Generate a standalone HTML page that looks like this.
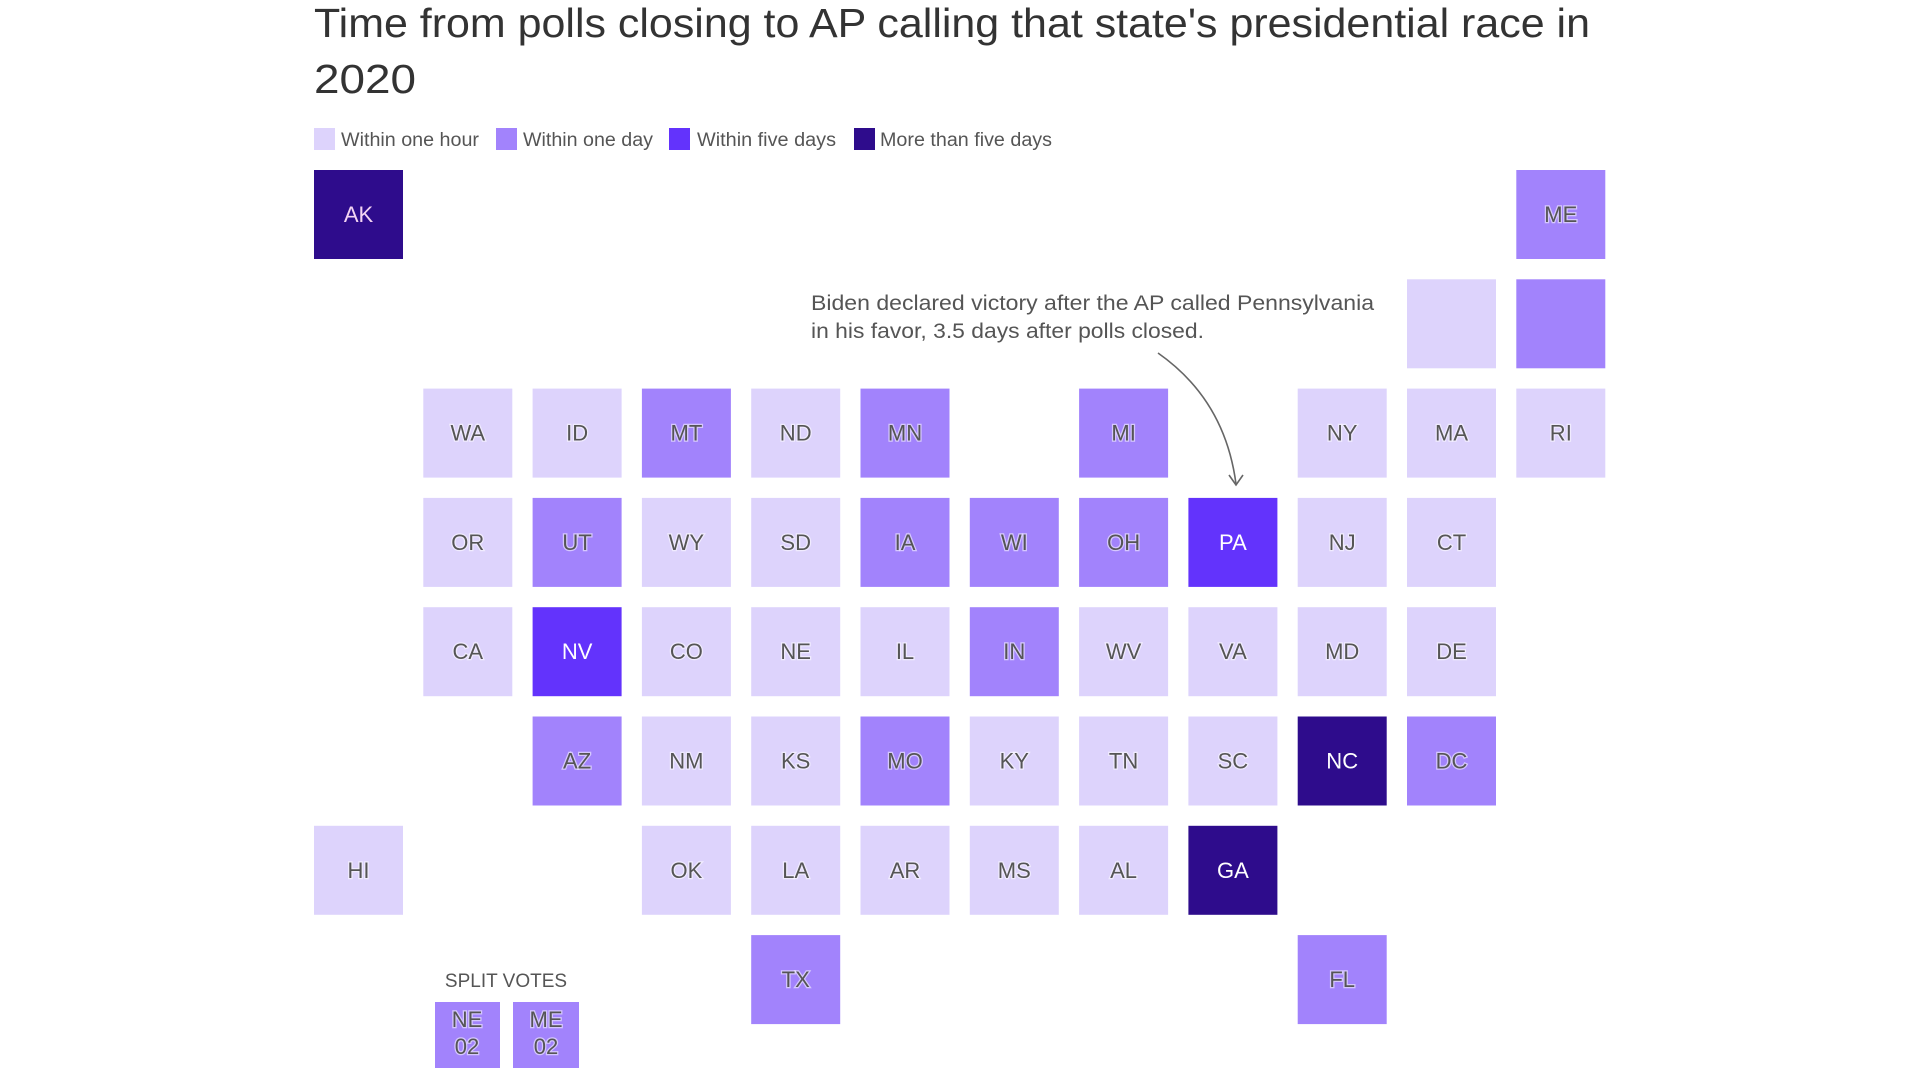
<!DOCTYPE html>
<html><head><meta charset="utf-8"><style>
html,body{margin:0;padding:0;background:#fff;}
svg{display:block;}
text{font-family:"Liberation Sans",sans-serif;}
.t{font-size:22px;fill:#555;text-anchor:middle;stroke:rgba(255,255,255,0.55);stroke-width:2.5px;paint-order:stroke;}
.w{font-size:22px;fill:#fff;text-anchor:middle;}
.L{fill:#ddd3fc}.M{fill:#a283fc}.F{fill:#6333fc}.D{fill:#2e0c8c}
</style></head><body>
<svg width="1920" height="1080" viewBox="0 0 1920 1080" xmlns="http://www.w3.org/2000/svg">
<text x="314" y="37" font-size="41" fill="#333" textLength="1276" lengthAdjust="spacingAndGlyphs">Time from polls closing to AP calling that state's presidential race in</text>
<text x="314" y="93" font-size="41" fill="#333" textLength="102" lengthAdjust="spacingAndGlyphs">2020</text>
<rect x="314" y="128" width="21" height="22" fill="#ddd3fc"/>
<text x="341" y="146" font-size="19" fill="#555" textLength="138" lengthAdjust="spacingAndGlyphs">Within one hour</text>
<rect x="496" y="128" width="21" height="22" fill="#a283fc"/>
<text x="523" y="146" font-size="19" fill="#555" textLength="130" lengthAdjust="spacingAndGlyphs">Within one day</text>
<rect x="669" y="128" width="21" height="22" fill="#6333fc"/>
<text x="697" y="146" font-size="19" fill="#555" textLength="139" lengthAdjust="spacingAndGlyphs">Within five days</text>
<rect x="854" y="128" width="21" height="22" fill="#2e0c8c"/>
<text x="880" y="146" font-size="19" fill="#555" textLength="172" lengthAdjust="spacingAndGlyphs">More than five days</text>

<g transform="translate(314,170)"><rect class="D" width="89" height="89"/><text class="w" style="fill:#f3d4f3" x="44.5" y="52">AK</text></g>
<g transform="translate(1516.3,170)"><rect class="M" width="89" height="89"/><text class="t" x="44.5" y="52">ME</text></g>
<g transform="translate(1407,279.3)"><rect class="L" width="89" height="89"/></g>
<g transform="translate(1516.3,279.3)"><rect class="M" width="89" height="89"/></g>

<g transform="translate(423.3,388.6)"><rect class="L" width="89" height="89"/><text class="t" x="44.5" y="52">WA</text></g>
<g transform="translate(532.6,388.6)"><rect class="L" width="89" height="89"/><text class="t" x="44.5" y="52">ID</text></g>
<g transform="translate(641.9,388.6)"><rect class="M" width="89" height="89"/><text class="t" x="44.5" y="52">MT</text></g>
<g transform="translate(751.2,388.6)"><rect class="L" width="89" height="89"/><text class="t" x="44.5" y="52">ND</text></g>
<g transform="translate(860.5,388.6)"><rect class="M" width="89" height="89"/><text class="t" x="44.5" y="52">MN</text></g>
<g transform="translate(1079.1,388.6)"><rect class="M" width="89" height="89"/><text class="t" x="44.5" y="52">MI</text></g>
<g transform="translate(1297.7,388.6)"><rect class="L" width="89" height="89"/><text class="t" x="44.5" y="52">NY</text></g>
<g transform="translate(1407,388.6)"><rect class="L" width="89" height="89"/><text class="t" x="44.5" y="52">MA</text></g>
<g transform="translate(1516.3,388.6)"><rect class="L" width="89" height="89"/><text class="t" x="44.5" y="52">RI</text></g>

<g transform="translate(423.3,497.9)"><rect class="L" width="89" height="89"/><text class="t" x="44.5" y="52">OR</text></g>
<g transform="translate(532.6,497.9)"><rect class="M" width="89" height="89"/><text class="t" x="44.5" y="52">UT</text></g>
<g transform="translate(641.9,497.9)"><rect class="L" width="89" height="89"/><text class="t" x="44.5" y="52">WY</text></g>
<g transform="translate(751.2,497.9)"><rect class="L" width="89" height="89"/><text class="t" x="44.5" y="52">SD</text></g>
<g transform="translate(860.5,497.9)"><rect class="M" width="89" height="89"/><text class="t" x="44.5" y="52">IA</text></g>
<g transform="translate(969.8,497.9)"><rect class="M" width="89" height="89"/><text class="t" x="44.5" y="52">WI</text></g>
<g transform="translate(1079.1,497.9)"><rect class="M" width="89" height="89"/><text class="t" x="44.5" y="52">OH</text></g>
<g transform="translate(1188.4,497.9)"><rect class="F" width="89" height="89"/><text class="w" x="44.5" y="52">PA</text></g>
<g transform="translate(1297.7,497.9)"><rect class="L" width="89" height="89"/><text class="t" x="44.5" y="52">NJ</text></g>
<g transform="translate(1407,497.9)"><rect class="L" width="89" height="89"/><text class="t" x="44.5" y="52">CT</text></g>

<g transform="translate(423.3,607.2)"><rect class="L" width="89" height="89"/><text class="t" x="44.5" y="52">CA</text></g>
<g transform="translate(532.6,607.2)"><rect class="F" width="89" height="89"/><text class="w" x="44.5" y="52">NV</text></g>
<g transform="translate(641.9,607.2)"><rect class="L" width="89" height="89"/><text class="t" x="44.5" y="52">CO</text></g>
<g transform="translate(751.2,607.2)"><rect class="L" width="89" height="89"/><text class="t" x="44.5" y="52">NE</text></g>
<g transform="translate(860.5,607.2)"><rect class="L" width="89" height="89"/><text class="t" x="44.5" y="52">IL</text></g>
<g transform="translate(969.8,607.2)"><rect class="M" width="89" height="89"/><text class="t" x="44.5" y="52">IN</text></g>
<g transform="translate(1079.1,607.2)"><rect class="L" width="89" height="89"/><text class="t" x="44.5" y="52">WV</text></g>
<g transform="translate(1188.4,607.2)"><rect class="L" width="89" height="89"/><text class="t" x="44.5" y="52">VA</text></g>
<g transform="translate(1297.7,607.2)"><rect class="L" width="89" height="89"/><text class="t" x="44.5" y="52">MD</text></g>
<g transform="translate(1407,607.2)"><rect class="L" width="89" height="89"/><text class="t" x="44.5" y="52">DE</text></g>

<g transform="translate(532.6,716.5)"><rect class="M" width="89" height="89"/><text class="t" x="44.5" y="52">AZ</text></g>
<g transform="translate(641.9,716.5)"><rect class="L" width="89" height="89"/><text class="t" x="44.5" y="52">NM</text></g>
<g transform="translate(751.2,716.5)"><rect class="L" width="89" height="89"/><text class="t" x="44.5" y="52">KS</text></g>
<g transform="translate(860.5,716.5)"><rect class="M" width="89" height="89"/><text class="t" x="44.5" y="52">MO</text></g>
<g transform="translate(969.8,716.5)"><rect class="L" width="89" height="89"/><text class="t" x="44.5" y="52">KY</text></g>
<g transform="translate(1079.1,716.5)"><rect class="L" width="89" height="89"/><text class="t" x="44.5" y="52">TN</text></g>
<g transform="translate(1188.4,716.5)"><rect class="L" width="89" height="89"/><text class="t" x="44.5" y="52">SC</text></g>
<g transform="translate(1297.7,716.5)"><rect class="D" width="89" height="89"/><text class="w" x="44.5" y="52">NC</text></g>
<g transform="translate(1407,716.5)"><rect class="M" width="89" height="89"/><text class="t" x="44.5" y="52">DC</text></g>

<g transform="translate(314,825.8)"><rect class="L" width="89" height="89"/><text class="t" x="44.5" y="52">HI</text></g>
<g transform="translate(641.9,825.8)"><rect class="L" width="89" height="89"/><text class="t" x="44.5" y="52">OK</text></g>
<g transform="translate(751.2,825.8)"><rect class="L" width="89" height="89"/><text class="t" x="44.5" y="52">LA</text></g>
<g transform="translate(860.5,825.8)"><rect class="L" width="89" height="89"/><text class="t" x="44.5" y="52">AR</text></g>
<g transform="translate(969.8,825.8)"><rect class="L" width="89" height="89"/><text class="t" x="44.5" y="52">MS</text></g>
<g transform="translate(1079.1,825.8)"><rect class="L" width="89" height="89"/><text class="t" x="44.5" y="52">AL</text></g>
<g transform="translate(1188.4,825.8)"><rect class="D" width="89" height="89"/><text class="w" x="44.5" y="52">GA</text></g>

<g transform="translate(751.2,935.1)"><rect class="M" width="89" height="89"/><text class="t" x="44.5" y="52">TX</text></g>
<g transform="translate(1297.7,935.1)"><rect class="M" width="89" height="89"/><text class="t" x="44.5" y="52">FL</text></g>

<text x="811" y="310" font-size="21" fill="#555" textLength="563" lengthAdjust="spacingAndGlyphs">Biden declared victory after the AP called Pennsylvania</text>
<text x="811" y="338" font-size="21" fill="#555" textLength="393" lengthAdjust="spacingAndGlyphs">in his favor, 3.5 days after polls closed.</text>
<path d="M1158,353 Q1225,400 1236,484" fill="none" stroke="#666" stroke-width="1.6"/>
<path d="M1229,475 L1236,485 L1243,475" fill="none" stroke="#666" stroke-width="1.6"/>
<text x="506" y="987" font-size="19" fill="#555" text-anchor="middle">SPLIT VOTES</text>
<rect x="435" y="1002" width="65" height="66" fill="#a283fc"/>
<rect x="513" y="1002" width="66" height="66" fill="#a283fc"/>
<text class="t" x="467" y="1027">NE</text><text class="t" x="467" y="1054">02</text>
<text class="t" x="546" y="1027">ME</text><text class="t" x="546" y="1054">02</text>
</svg>
</body></html>
